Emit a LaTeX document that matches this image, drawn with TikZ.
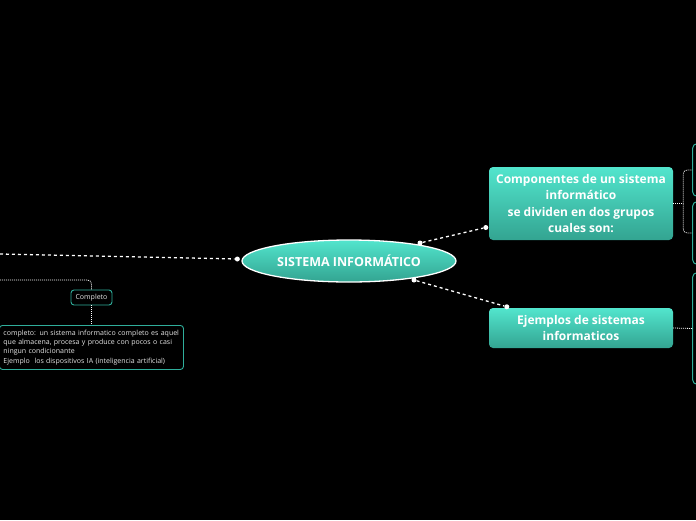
\documentclass[tikz,border=0pt]{standalone}
\usepackage{fontspec}
\setmainfont{Open Sans}
\usetikzlibrary{shapes.geometric}
\definecolor{tealtop}{HTML}{52E5CD}
\definecolor{tealbot}{HTML}{33A491}
\definecolor{tealline}{HTML}{2FAE9B}
\tikzset{
  tema/.style={rounded corners=4pt, top color=tealtop, bottom color=tealbot, text=white,
    font=\bfseries\fontsize{12}{16.5}\selectfont, align=center, inner sep=2pt,
    minimum width=184pt},
  hoja/.style={draw=tealline, line width=1pt, fill=black, rounded corners=5pt,
    minimum width=40pt, anchor=north west},
  nota/.style={draw=tealline, line width=0.9pt, fill=black, rounded corners=3pt,
    text=white!90!black, font=\fontsize{7}{9.3}\selectfont},
  rama/.style={white, line width=1.3pt, dash pattern=on 3pt off 3pt},
  enlace/.style={white, line width=0.8pt, dash pattern=on 1pt off 1pt},
  punto/.style={circle, fill=white, inner sep=0pt, minimum size=5pt},
}

\begin{document}
\begin{tikzpicture}[x=1pt, y=-1pt]
    \useasboundingbox (0,0) rectangle (696,520);
    \clip (0,0) rectangle (696,520);
    \fill[black] (0,0) rectangle (696,520);

    % tema central
    \node[ellipse, draw=white, line width=1.3pt, top color=tealtop, bottom color=tealbot,
      inner sep=0pt, minimum width=214pt, minimum height=42pt, text=white,
      font=\bfseries\fontsize{12.5}{14}\selectfont] (central) at (349,261) {SISTEMA INFORMÁTICO};

    % ramas principales
    \node[tema, minimum height=73pt] (comp) at (581,203.5)
      {Componentes de un sistema\\ informático\\ se dividen en dos grupos\\ cuales son:};
    \node[tema, minimum height=40pt] (ejem) at (581,328)
      {Ejemplos de sistemas\\ informaticos};

    % hojas de la derecha (cortadas por el borde)
    \node[hoja, minimum height=53pt] (tipo1) at (692,143) {};
    \node[hoja, minimum height=63pt] (tipo2) at (692,201) {};
    \node[hoja, minimum height=112pt] (ejem1) at (692,272) {};

    % rama de la izquierda
    \node[nota, inner sep=1pt, minimum width=41pt, minimum height=15pt] (completo) at (91.5,297.5) {Completo};
    \node[nota, anchor=north west, text width=176pt, inner sep=4pt, minimum height=44pt, align=left] (texto) at (-1,325)
      {completo: un sistema informatico completo es aquel\\
       que almacena, procesa y produce con pocos o casi\\
       ningun condicionante\\
       Ejemplo\ \ los dispositivos IA (inteligencia artificial)};

    % puntos de union
    \node[punto] (d1) at ([xshift=-4pt, yshift=2pt]central.west) {};
    \node[punto] (d2) at ([xshift=71pt, yshift=18pt]central.center) {};
    \node[punto] (d3) at ([xshift=-3pt, yshift=-24pt]comp.west) {};
    \node[punto] (d4) at ([xshift=65pt, yshift=-19pt]central.center) {};
    \node[punto] (d5) at ([xshift=18pt, yshift=1pt]ejem.north west) {};

    \coordinate (izq1) at (0,254);
    \coordinate (izq2) at (0,280);
    \coordinate (horq) at ([xshift=10pt]comp.east);

    % conectores
    \draw[rama] (izq1) -- (d1);
    \draw[rama] (d2) -- (d3);
    \draw[rama] (d4) -- (d5);
    \draw[enlace] (comp.east) -- (horq);
    \draw[enlace, rounded corners=4pt] (horq) |- (tipo1.west);
    \draw[enlace, rounded corners=4pt] (horq) |- (tipo2.west);
    \draw[enlace] (ejem.east) -- (ejem1.west);
    \draw[enlace, rounded corners=4pt] (izq2) -| (completo.north);
    \draw[enlace] (completo.south) -- (completo.south |- texto.north);
\end{tikzpicture}
\end{document}
